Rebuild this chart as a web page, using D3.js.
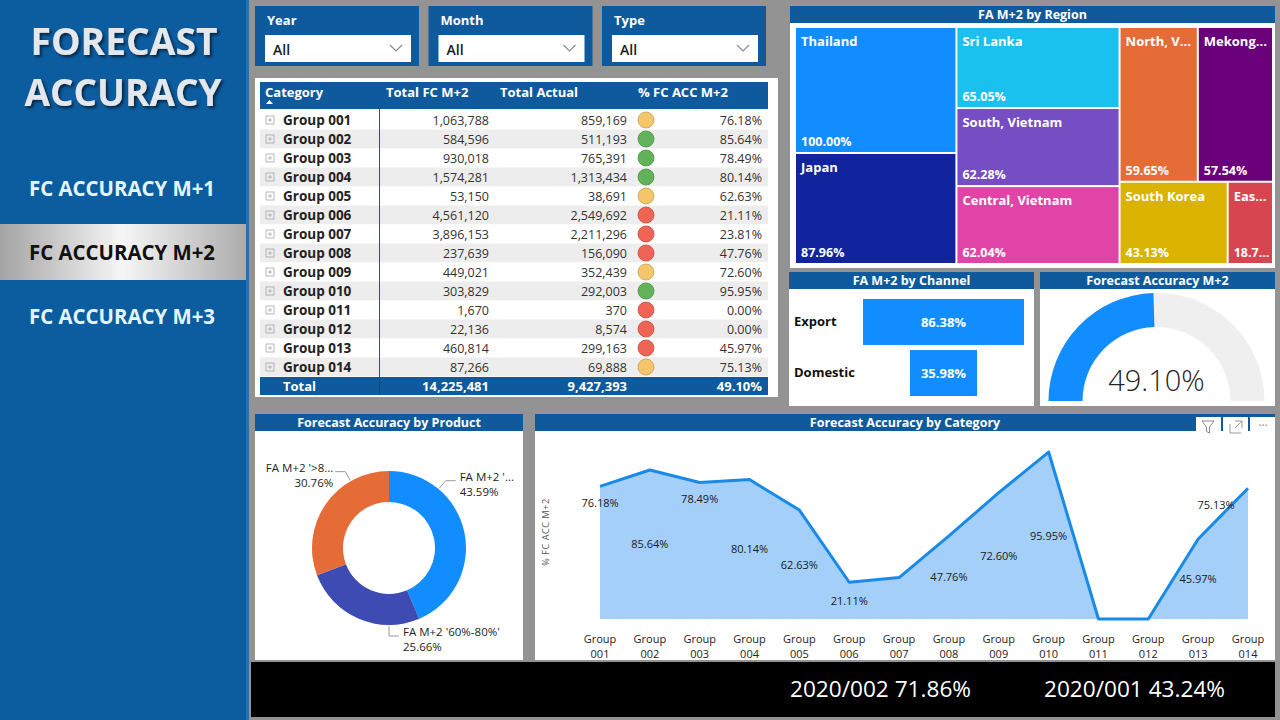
<!DOCTYPE html>
<html>
<head>
<meta charset="utf-8">
<script src="https://cdn.jsdelivr.net/npm/d3@7"></script>
<style>
  body { margin: 0; background: #939393; overflow: hidden; }
  text { font-family: "Segoe UI", "Open Sans", "Noto Sans", sans-serif; }
</style>
</head>
<body>
<svg id="dash" width="1280" height="720"></svg>
<script>
// ---- data ----
const groups = ["Group 001", "Group 002", "Group 003", "Group 004", "Group 005", "Group 006", "Group 007",
                "Group 008", "Group 009", "Group 010", "Group 011", "Group 012", "Group 013", "Group 014"];
const totalFc = [1063788, 584596, 930018, 1574281, 53150, 4561120, 3896153, 237639, 449021, 303829, 1670, 22136, 460814, 87266];
const totalActual = [859169, 511193, 765391, 1313434, 38691, 2549692, 2211296, 156090, 352439, 292003, 370, 8574, 299163, 69888];
const fcAcc = [76.18, 85.64, 78.49, 80.14, 62.63, 21.11, 23.81, 47.76, 72.60, 95.95, 0.00, 0.00, 45.97, 75.13];
const totalRow = ["Total", 14225481, 9427393, 49.10];
const tableHeaders = ["Category", "Total FC M+2", "Total Actual", "% FC ACC M+2"];

const filterNames = ["Year", "Month", "Type"];
const filterValues = ["All", "All", "All"];

const regions = ["Thailand", "Japan", "Sri Lanka", "South, Vietnam", "Central, Vietnam",
                 "North, Vietnam", "Mekong, Vietnam", "South Korea", "Eastern, Vietnam"];
const regionAcc = [100.00, 87.96, 65.05, 62.28, 62.04, 59.65, 57.54, 43.13, 18.74];
const regionVolume = [179.5, 158.2, 116.7, 112.4, 112.2, 106.9, 102.7, 78.5, 32.9];
const regionColors = ["#118dff", "#12239e", "#1ac0ee", "#744ec2", "#e044a7", "#e66c37", "#6b007b", "#d9b300", "#d64550"];

const channels = ["Export", "Domestic"];
const channelAcc = [86.38, 35.98];

const overallAcc = 49.10;

const productBands = ["FA M+2 '<60%'", "FA M+2 '60%-80%'", "FA M+2 '>80%'"];
const productShare = [43.59, 25.66, 30.76];
const productColors = ["#118dff", "#3d4bb3", "#e66c37"];

const menuItems = ["FC ACCURACY M+1", "FC ACCURACY M+2", "FC ACCURACY M+3"];
const tickerPeriods = ["2020/002", "2020/001"];
const tickerAcc = [71.86, 43.24];

// ---- helpers ----
const BLUE = "#0f5a9c";
const pct = v => d3.format(".2f")(v) + "%";
const num = d3.format(",");
const svg = d3.select("#dash");

function fitText(sel, maxW) {
  sel.each(function () {
    const t = d3.select(this);
    let s = t.text();
    if (this.getComputedTextLength() <= maxW) return;
    while (s.length > 1) {
      s = s.slice(0, -1);
      t.text(s.trimEnd() + "...");
      if (this.getComputedTextLength() <= maxW) break;
    }
  });
}

function panel(x, y, w, h, title) {
  const g = svg.append("g");
  g.append("rect").attr("x", x).attr("y", y).attr("width", w).attr("height", h).attr("fill", "#ffffff");
  if (title) {
    g.append("rect").attr("x", x).attr("y", y).attr("width", w).attr("height", 17).attr("fill", BLUE);
    g.append("text").attr("x", x + w / 2).attr("y", y + 13).attr("text-anchor", "middle")
      .attr("fill", "#fff").attr("font-size", 12.5).attr("font-weight", "bold").text(title);
  }
  return g;
}

const defs = svg.append("defs");
defs.append("filter").attr("id", "shadow").attr("x", "-10%").attr("y", "-20%").attr("width", "130%").attr("height", "150%")
  .append("feDropShadow").attr("dx", 2).attr("dy", 2).attr("stdDeviation", 1.5).attr("flood-color", "#000").attr("flood-opacity", 0.6);
const silver = defs.append("linearGradient").attr("id", "silver");
silver.append("stop").attr("offset", "0%").attr("stop-color", "#a4a4a4");
silver.append("stop").attr("offset", "50%").attr("stop-color", "#f6f6f6");
silver.append("stop").attr("offset", "100%").attr("stop-color", "#acacac");

// ---- left navigation ----
svg.append("rect").attr("x", 0).attr("y", 0).attr("width", 246).attr("height", 720).attr("fill", "#0c5ca0");
svg.append("rect").attr("x", 246).attr("y", 0).attr("width", 3).attr("height", 720).attr("fill", "#2a6eaa");

svg.append("text").attr("x", 124).attr("y", 55).attr("text-anchor", "middle")
  .attr("font-size", 37).attr("font-weight", "bold").attr("fill", "#e4e8ec").attr("filter", "url(#shadow)")
  .attr("textLength", 187).attr("lengthAdjust", "spacingAndGlyphs").text("FORECAST");
svg.append("text").attr("x", 123).attr("y", 106).attr("text-anchor", "middle")
  .attr("font-size", 37).attr("font-weight", "bold").attr("fill", "#e4e8ec").attr("filter", "url(#shadow)")
  .attr("textLength", 197).attr("lengthAdjust", "spacingAndGlyphs").text("ACCURACY");

svg.append("rect").attr("x", 0).attr("y", 224).attr("width", 246).attr("height", 56).attr("fill", "url(#silver)");
const menuY = d3.scalePoint().domain(menuItems).range([196, 324]);
svg.selectAll(".menu").data(menuItems).enter().append("text")
  .attr("x", 29).attr("y", d => menuY(d))
  .attr("font-family", "Lato, 'Open Sans', sans-serif")
  .attr("font-size", 21).attr("font-weight", "bold")
  .attr("fill", (d, i) => i === 1 ? "#111" : "#e3f5ff")
  .attr("textLength", 186).attr("lengthAdjust", "spacingAndGlyphs")
  .text(d => d);

// ---- filters ----
const filterX = d3.scalePoint().domain(filterNames).range([255, 602]);
const fg = svg.selectAll(".filter").data(filterNames).enter().append("g")
  .attr("transform", d => `translate(${filterX(d)},6)`);
fg.append("rect").attr("width", 164).attr("height", 60).attr("fill", BLUE);
fg.append("text").attr("x", 12).attr("y", 19).attr("fill", "#fff").attr("font-size", 13).attr("font-weight", "bold").text(d => d);
fg.append("rect").attr("x", 10).attr("y", 29).attr("width", 146).attr("height", 27).attr("fill", "#fff");
fg.append("text").attr("x", 18).attr("y", 49).attr("fill", "#1b1b1b").attr("font-size", 14).attr("font-weight", 600)
  .text((d, i) => filterValues[i]);
fg.append("path").attr("d", "M135,39 L141,45 L147,39").attr("fill", "none").attr("stroke", "#8a8a8a").attr("stroke-width", 1.2);

// ---- table ----
panel(255, 78, 523, 319);
svg.append("rect").attr("x", 260).attr("y", 82).attr("width", 508).attr("height", 27).attr("fill", BLUE);
const headX = [265, 386, 500, 638];
svg.selectAll(".thead").data(tableHeaders).enter().append("text")
  .attr("x", (d, i) => headX[i]).attr("y", 97).attr("fill", "#fff")
  .attr("font-size", 13).attr("font-weight", "bold").text(d => d);
svg.append("path").attr("d", "M266,104 L269.5,100 L273,104 Z").attr("fill", "#fff");

const rowY = d3.scaleBand().domain(groups).range([110.5, 376.5]);
const rows = svg.selectAll(".row").data(groups).enter().append("g")
  .attr("transform", d => `translate(0,${rowY(d)})`);
rows.append("rect").attr("x", 260).attr("width", 508).attr("height", rowY.bandwidth())
  .attr("fill", (d, i) => i % 2 ? "#ededed" : "#ffffff");
rows.append("rect").attr("x", 266).attr("y", 5.5).attr("width", 8).attr("height", 8)
  .attr("fill", "none").attr("stroke", "#a6a6a6").attr("stroke-width", 0.8);
rows.append("path").attr("d", "M268,9.5 H272 M270,7.5 V11.5").attr("stroke", "#a6a6a6").attr("stroke-width", 0.8);
rows.append("text").attr("x", 283).attr("y", 14).attr("font-size", 13.5).attr("font-weight", "bold")
  .attr("fill", "#222").text(d => d);
rows.append("text").attr("x", 489).attr("y", 14).attr("text-anchor", "end").attr("font-size", 12.5)
  .attr("fill", "#333").text((d, i) => num(totalFc[i]));
rows.append("text").attr("x", 627).attr("y", 14).attr("text-anchor", "end").attr("font-size", 12.5)
  .attr("fill", "#333").text((d, i) => num(totalActual[i]));
const dotColor = v => v >= 77 ? "#62b25c" : v >= 50 ? "#f5c56c" : "#ef6455";
rows.append("circle").attr("cx", 646).attr("cy", 9.5).attr("r", 8)
  .attr("fill", (d, i) => dotColor(fcAcc[i]))
  .attr("stroke", (d, i) => d3.color(dotColor(fcAcc[i])).darker(0.6)).attr("stroke-width", 0.8);
rows.append("text").attr("x", 762).attr("y", 14).attr("text-anchor", "end").attr("font-size", 12.5)
  .attr("fill", "#333").text((d, i) => pct(fcAcc[i]));
svg.append("line").attr("x1", 379.5).attr("x2", 379.5).attr("y1", 109).attr("y2", 395).attr("stroke", BLUE);

svg.append("rect").attr("x", 260).attr("y", 377).attr("width", 508).attr("height", 18).attr("fill", BLUE);
svg.append("line").attr("x1", 379.5).attr("x2", 379.5).attr("y1", 377).attr("y2", 395).attr("stroke", "#0a4a82");
const totalX = [283, 489, 627, 762];
svg.selectAll(".total").data(totalRow).enter().append("text")
  .attr("x", (d, i) => totalX[i]).attr("y", 391)
  .attr("text-anchor", (d, i) => i ? "end" : "start")
  .attr("fill", "#fff").attr("font-size", 13).attr("font-weight", "bold")
  .text((d, i) => i === 0 ? d : i === 3 ? pct(d) : num(d));

// ---- treemap ----
panel(790, 6, 485, 262, "FA M+2 by Region");
const root = d3.hierarchy({ children: regions.map((r, i) => ({ name: r, acc: regionAcc[i], vol: regionVolume[i], color: regionColors[i] })) })
  .sum(d => d.vol || 0)
  .sort((a, b) => b.value - a.value);
d3.treemap().size([476, 235]).paddingInner(2)(root);
const tm = svg.append("g").attr("transform", "translate(796,28)");
const tiles = tm.selectAll("g").data(root.leaves()).enter().append("g")
  .attr("transform", d => `translate(${d.x0},${d.y0})`);
tiles.append("rect").attr("width", d => d.x1 - d.x0).attr("height", d => d.y1 - d.y0).attr("fill", d => d.data.color);
tiles.append("text").attr("x", 5).attr("y", 18).attr("fill", "#fff").attr("font-size", 13).attr("font-weight", "bold")
  .text(d => d.data.name)
  .each(function (d) { fitText(d3.select(this), d.x1 - d.x0 - 7); });
tiles.append("text").attr("x", 5).attr("y", d => d.y1 - d.y0 - 6).attr("fill", "#fff").attr("font-size", 12.5).attr("font-weight", "bold")
  .text(d => pct(d.data.acc))
  .each(function (d) { fitText(d3.select(this), d.x1 - d.x0 - 5); });

// ---- channel funnel ----
panel(789, 272, 245, 134, "FA M+2 by Channel");
const chY = d3.scaleBand().domain(channels).range([299, 396]).paddingInner(0.1);
const chW = d3.scaleLinear().domain([0, d3.max(channelAcc)]).range([0, 161]);
const chMid = 943.5;
svg.selectAll(".chbar").data(channels).enter().append("rect")
  .attr("x", (d, i) => chMid - chW(channelAcc[i]) / 2).attr("y", d => chY(d))
  .attr("width", (d, i) => chW(channelAcc[i])).attr("height", chY.bandwidth()).attr("fill", "#118dff");
svg.selectAll(".chval").data(channels).enter().append("text")
  .attr("x", chMid).attr("y", d => chY(d) + chY.bandwidth() / 2 + 5).attr("text-anchor", "middle")
  .attr("fill", "#fff").attr("font-size", 13).attr("font-weight", "bold").text((d, i) => pct(channelAcc[i]));
svg.selectAll(".chlab").data(channels).enter().append("text")
  .attr("x", 794).attr("y", d => chY(d) + chY.bandwidth() / 2 + 4).attr("fill", "#111")
  .attr("font-size", 13).attr("font-weight", "bold").text(d => d);

// ---- gauge ----
panel(1040, 272, 235, 134, "Forecast Accuracy M+2");
const gAngle = d3.scaleLinear().domain([0, 100]).range([-Math.PI / 2, Math.PI / 2]);
const gArc = d3.arc().innerRadius(74).outerRadius(108);
const gauge = svg.append("g").attr("transform", "translate(1156.5,401)");
gauge.append("path").attr("d", gArc({ startAngle: gAngle(0), endAngle: gAngle(100) })).attr("fill", "#efefef");
gauge.append("path").attr("d", gArc({ startAngle: gAngle(0), endAngle: gAngle(overallAcc) })).attr("fill", "#118dff");
gauge.append("text").attr("x", 0).attr("y", -10).attr("text-anchor", "middle")
  .attr("font-family", "Roboto, 'Open Sans', sans-serif").attr("font-weight", 300)
  .attr("font-size", 29).attr("fill", "#252423").text(pct(overallAcc));

// ---- donut ----
panel(255, 414, 268, 246, "Forecast Accuracy by Product");
const cx = 389, cy = 548, rOut = 77, rIn = 46;
const pie = d3.pie().sort(null).value(d => d)(productShare);
const dArc = d3.arc().innerRadius(rIn).outerRadius(rOut);
const donut = svg.append("g").attr("transform", `translate(${cx},${cy})`);
donut.selectAll("path").data(pie).enter().append("path")
  .attr("d", dArc).attr("fill", (d, i) => productColors[i]);
pie.forEach((p, i) => {
  const mid = (p.startAngle + p.endAngle) / 2;
  const upper = Math.cos(mid) > 0;
  const pref = upper ? (Math.sin(mid) >= 0 ? 0.7 : 2 * Math.PI - 0.52) : Math.PI;
  const a = Math.max(p.startAngle, Math.min(p.endAngle, pref));
  const p0 = [Math.sin(a) * (rOut + 1), -Math.cos(a) * (rOut + 1)];
  const p1 = [Math.sin(a) * (rOut + 11), -Math.cos(a) * (rOut + 11)];
  const right = p1[0] >= -0.5;
  const p2 = [p1[0] + (right ? 10 : -10), p1[1]];
  donut.append("polyline").attr("points", [p0, p1, p2].map(q => q.join(",")).join(" "))
    .attr("fill", "none").attr("stroke", "#999").attr("stroke-width", 1);
  const tx = p2[0] + (right ? 4 : -2);
  const anchor = right ? "start" : "end";
  const maxW = right ? (cx + 130) - (cx + tx) : (cx + tx) - 262;
  donut.append("text").attr("x", tx).attr("y", p2[1]).attr("text-anchor", anchor)
    .attr("font-size", 11.5).attr("fill", "#252423").text(productBands[i])
    .call(s => fitText(s, maxW));
  donut.append("text").attr("x", tx).attr("y", p2[1] + 15).attr("text-anchor", anchor)
    .attr("font-size", 11.5).attr("fill", "#252423").text(pct(productShare[i]));
});

// ---- area chart ----
panel(535, 414, 740, 246, "Forecast Accuracy by Category");
const x = d3.scalePoint().domain(groups).range([600, 1248]);
const y = d3.scaleLinear().domain([0, 100]).range([619, 445]);
const area = d3.area().x((d, i) => x(groups[i])).y0(y(0)).y1(d => y(d));
const line = d3.line().x((d, i) => x(groups[i])).y(d => y(d));
svg.append("path").attr("d", area(fcAcc)).attr("fill", "#a3cff8");
svg.append("path").attr("d", line(fcAcc)).attr("fill", "none").attr("stroke", "#1a8ae8")
  .attr("stroke-width", 3).attr("stroke-linejoin", "round");

const xAxis = svg.append("g").selectAll("g").data(groups).enter().append("text")
  .attr("x", d => x(d)).attr("y", 643).attr("text-anchor", "middle")
  .attr("font-size", 11).attr("fill", "#252423");
xAxis.append("tspan").attr("x", d => x(d)).text(d => d.split(" ")[0]);
xAxis.append("tspan").attr("x", d => x(d)).attr("dy", 15).text(d => d.split(" ")[1]);

svg.append("text").attr("transform", "translate(549,532) rotate(-90)").attr("text-anchor", "middle")
  .attr("font-size", 9).attr("fill", "#555").attr("letter-spacing", 0.6).text("% FC ACC M+2");

// data labels: ends and peaks/valleys first, then by value; skip when crowded
const last = fcAcc.length - 1;
const isEnd = i => i === 0 || i === last;
const isExtreme = i => isEnd(i) ||
  (fcAcc[i] - fcAcc[i - 1]) * (fcAcc[i] - fcAcc[i + 1]) > 0;
const order = d3.range(groups.length).filter(i => fcAcc[i] > 0)
  .sort((a, b) => (isExtreme(b) - isExtreme(a)) || (fcAcc[b] - fcAcc[a]));
const placed = [];
const hits = (lx, ly) => placed.some(p => Math.abs(p.x - lx) < 50 && Math.abs(p.y - ly) < 14);
order.forEach(i => {
  const lx = Math.min(x(groups[i]), 1216);
  const yl = y(fcAcc[i]);
  const mid = (yl + y(0)) / 2, top = yl + 17;
  const cands = isEnd(i) ? [top, mid] : [mid, top];
  const ly = cands.find(c => !hits(lx, c));
  if (ly === undefined) return;
  placed.push({ x: lx, y: ly });
  svg.append("text").attr("x", lx).attr("y", ly + 4).attr("text-anchor", "middle")
    .attr("font-size", 11).attr("fill", "#1a1a1a").text(pct(fcAcc[i]));
});

// visual header icons
const icons = svg.append("g");
[1196, 1223, 1250].forEach(ix => icons.append("rect").attr("x", ix).attr("y", 417).attr("width", 25).attr("height", 19).attr("fill", "#fff"));
icons.append("path").attr("d", "M1202,421 H1214 L1209.5,427 V433 L1206.5,431.5 V427 Z").attr("fill", "none").attr("stroke", "#888");
icons.append("path").attr("d", "M1230,424 V433 H1241 M1235,421 H1242 V428 M1242,421 L1235,428").attr("fill", "none").attr("stroke", "#999");
icons.append("text").attr("x", 1263).attr("y", 430).attr("text-anchor", "middle").attr("font-size", 12).attr("fill", "#888").text("···");

// ---- ticker ----
svg.append("rect").attr("x", 251).attr("y", 662).attr("width", 1024).attr("height", 55).attr("fill", "#000");
const tickX = d3.scalePoint().domain(tickerPeriods).range([790, 1044]);
svg.selectAll(".tick").data(tickerPeriods).enter().append("text")
  .attr("x", d => tickX(d)).attr("y", 697)
  .attr("font-family", "'DejaVu Sans Mono', monospace").attr("font-size", 22).attr("fill", "#fff")
  .attr("textLength", 181).attr("lengthAdjust", "spacingAndGlyphs")
  .text((d, i) => `${d} ${pct(tickerAcc[i])}`);
</script>
</body>
</html>
